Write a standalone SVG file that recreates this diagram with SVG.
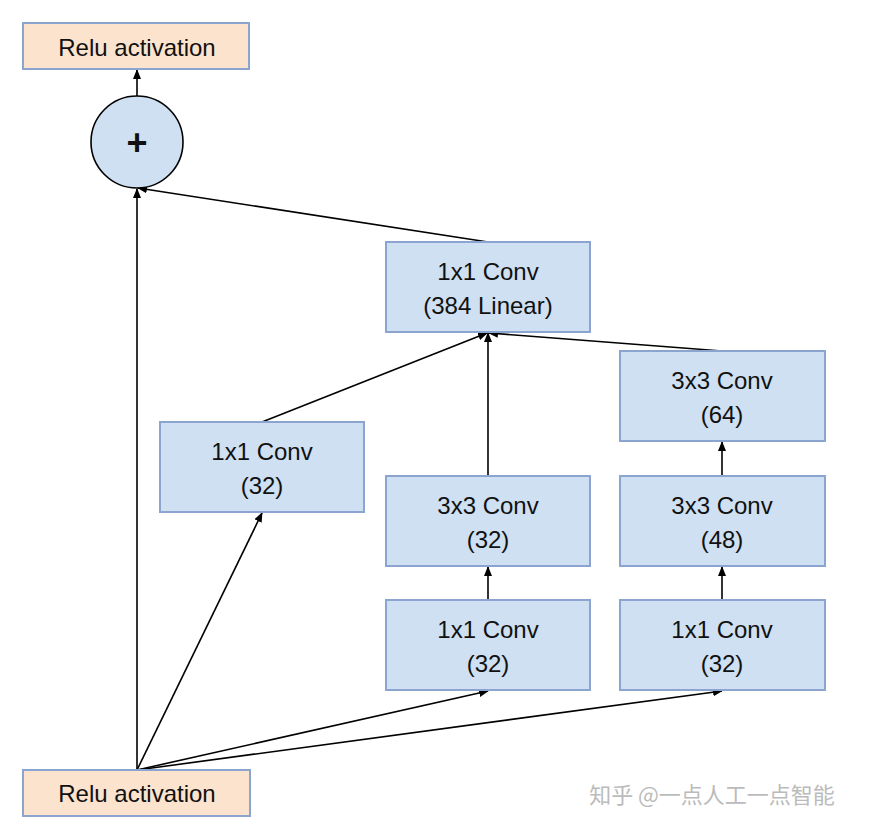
<svg xmlns="http://www.w3.org/2000/svg" width="884" height="830" viewBox="0 0 884 830">
<style>
.b{fill:#cfe0f3;stroke:#8ca5d0;stroke-width:2}
.r{fill:#fbe3cd;stroke:#8ca5d0;stroke-width:2}
text{font-family:"Liberation Sans",Arial,sans-serif;font-size:24px;fill:#111;text-anchor:middle}
.c line{stroke:#000;stroke-width:1.6;marker-end:url(#a)}
</style>
<defs><marker id="a" markerWidth="10" markerHeight="10" refX="9" refY="5" orient="auto" markerUnits="userSpaceOnUse"><path d="M0,1 L10,5 L0,9 z" fill="#000"/></marker></defs>
<rect width="884" height="830" fill="#fff"/>
<g class="c">
<line x1="137" y1="96" x2="137" y2="70"/>
<line x1="137" y1="770" x2="137" y2="189"/>
<line x1="137" y1="770" x2="262" y2="513"/>
<line x1="137" y1="770" x2="488" y2="691"/>
<line x1="137" y1="770" x2="722" y2="691"/>
<line x1="262" y1="422" x2="487" y2="333"/>
<line x1="488" y1="476" x2="488" y2="333"/>
<line x1="722" y1="351" x2="489" y2="333"/>
<line x1="488" y1="242" x2="138" y2="188"/>
<line x1="488" y1="600" x2="488" y2="567"/>
<line x1="722" y1="600" x2="722" y2="567"/>
<line x1="722" y1="476" x2="722" y2="442"/>
</g>
<g id="relu_top"><rect class="r" x="23" y="23" width="226" height="46"/><text x="137" y="56">Relu activation</text></g>
<g id="add"><circle cx="137" cy="142" r="46" fill="#cfe0f3" stroke="#000" stroke-width="1.6"/><text x="137" y="155" style="font-size:36px;font-weight:bold">+</text></g>
<g id="conv384"><rect class="b" x="386" y="242" width="204" height="90"/><text x="488" y="280">1x1 Conv</text><text x="488" y="314">(384 Linear)</text></g>
<g id="b1"><rect class="b" x="160" y="422" width="204" height="90"/><text x="262" y="460">1x1 Conv</text><text x="262" y="494">(32)</text></g>
<g id="b2a"><rect class="b" x="386" y="600" width="204" height="90"/><text x="488" y="638">1x1 Conv</text><text x="488" y="672">(32)</text></g>
<g id="b2b"><rect class="b" x="386" y="476" width="204" height="90"/><text x="488" y="514">3x3 Conv</text><text x="488" y="548">(32)</text></g>
<g id="b3a"><rect class="b" x="620" y="600" width="205" height="90"/><text x="722" y="638">1x1 Conv</text><text x="722" y="672">(32)</text></g>
<g id="b3b"><rect class="b" x="620" y="476" width="205" height="90"/><text x="722" y="514">3x3 Conv</text><text x="722" y="548">(48)</text></g>
<g id="b3c"><rect class="b" x="620" y="351" width="205" height="90"/><text x="722" y="389">3x3 Conv</text><text x="722" y="423">(64)</text></g>
<g id="relu_bottom"><rect class="r" x="23" y="770" width="227" height="46"/><text x="137" y="802">Relu activation</text></g>
<text x="712" y="803" style="fill:#bbb;font-size:22px;font-family:'Noto Sans CJK SC',sans-serif">知乎 @一点人工一点智能</text>
</svg>
